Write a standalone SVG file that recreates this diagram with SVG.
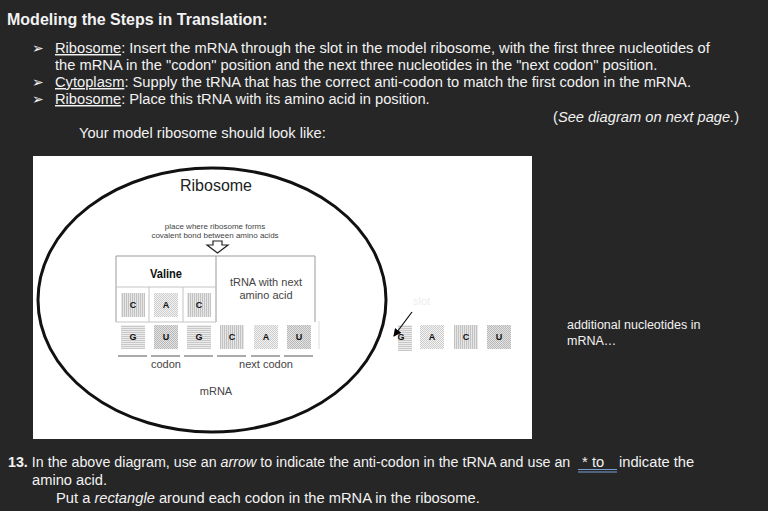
<svg xmlns="http://www.w3.org/2000/svg" width="768" height="511" viewBox="0 0 768 511">
<style>
.t{font-family:"Liberation Sans",Arial,sans-serif;fill:#f2f2f2;font-size:14.7px}
.b{font-family:"DejaVu Sans",sans-serif;fill:#f2f2f2;font-size:14px}
.d{font-family:"Liberation Sans",Arial,sans-serif;fill:#444;font-size:11px}
.nt{font-family:"Liberation Sans",Arial,sans-serif;font-weight:bold;font-size:9px;fill:#111;text-anchor:middle}
.ln{stroke:#999;stroke-width:1;fill:none}
.bar{stroke:#aaa;stroke-width:2}
</style>
<defs>
<pattern id="pv" width="2" height="2" patternUnits="userSpaceOnUse"><rect width="2" height="2" fill="#e6e6e6"/><rect width="1" height="2" fill="#c2c2c2"/></pattern>
<pattern id="ph" width="2" height="2" patternUnits="userSpaceOnUse"><rect width="2" height="2" fill="#ececec"/><rect width="2" height="1" fill="#c8c8c8"/></pattern>
<pattern id="pa" width="2" height="2" patternUnits="userSpaceOnUse"><rect width="2" height="2" fill="#f4f4f4"/><rect width="1" height="1" fill="#cccccc"/><rect x="1" y="1" width="1" height="1" fill="#cccccc"/></pattern>
<pattern id="pu" width="2" height="2" patternUnits="userSpaceOnUse"><rect width="2" height="2" fill="#e4e4e4"/><rect width="1" height="1" fill="#b8b8b8"/><rect x="1" y="1" width="1" height="1" fill="#b8b8b8"/></pattern>
<marker id="ah" markerWidth="8" markerHeight="8" refX="7" refY="4" orient="auto" markerUnits="userSpaceOnUse"><path d="M0,0 L8,4 L0,8 Z" fill="#000"/></marker>
</defs>
<rect width="768" height="511" fill="#262626"/>

<g id="header">
<text class="t" x="7" y="25" style="font-weight:bold;font-size:16px">Modeling the Steps in Translation:</text>
<text class="b" x="32" y="53">➢</text>
<text class="t" x="55" y="53"><tspan text-decoration="underline">Ribosome</tspan>: Insert the mRNA through the slot in the model ribosome, with the first three nucleotides of</text>
<text class="t" x="55" y="70">the mRNA in the "codon" position and the next three nucleotides in the "next codon" position.</text>
<text class="b" x="32" y="87">➢</text>
<text class="t" x="55" y="87"><tspan text-decoration="underline">Cytoplasm</tspan>: Supply the tRNA that has the correct anti-codon to match the first codon in the mRNA.</text>
<text class="b" x="32" y="104">➢</text>
<text class="t" x="55" y="104"><tspan text-decoration="underline">Ribosome</tspan>: Place this tRNA with its amino acid in position.</text>
<text class="t" x="553" y="122">(<tspan font-style="italic">See diagram on next page.</tspan>)</text>
<text class="t" x="79" y="138">Your model ribosome should look like:</text>
</g>

<g id="panel">
<rect x="33" y="156" width="499" height="283" fill="#fff"/>
</g>

<g id="ribosome">
<ellipse cx="212" cy="300" rx="174" ry="132" fill="none" stroke="#111" stroke-width="3"/>
<text x="216" y="191" text-anchor="middle" style="font-family:'Liberation Sans',Arial,sans-serif;font-size:16px;fill:#222">Ribosome</text>
<text class="d" x="215" y="229" text-anchor="middle" style="font-size:8px">place where ribosome forms</text>
<text class="d" x="215" y="238" text-anchor="middle" style="font-size:8px">covalent bond between amino acids</text>
<path d="M213,241 H222 V245 H228 L217.5,253 L207,245 H213 Z" fill="#fff" stroke="#222" stroke-width="1.2"/>
<text class="d" x="216" y="395" text-anchor="middle">mRNA</text>
</g>

<g id="trna-valine">
<path class="ln" d="M116,322 V256 H216 V322"/>
<path d="M116,287 H216 M149,287 V322 M183,287 V322 M116,322 H216" stroke="#c4c4c4" fill="none"/>
<text x="166" y="278" text-anchor="middle" style="font-family:'Liberation Sans',Arial,sans-serif;font-weight:bold;font-size:12px;fill:#111" textLength="32" lengthAdjust="spacingAndGlyphs">Valine</text>
<rect x="121" y="293" width="24" height="24" fill="url(#pv)"/><text class="nt" x="133" y="308">C</text>
<rect x="154" y="293" width="24" height="24" fill="url(#pa)"/><text class="nt" x="166" y="308">A</text>
<rect x="187" y="293" width="24" height="24" fill="url(#pv)"/><text class="nt" x="199" y="308">C</text>
</g>

<g id="trna-next">
<path class="ln" d="M216,256 H315 V322"/>
<text class="d" x="266" y="286" text-anchor="middle">tRNA with next</text>
<text class="d" x="266" y="299" text-anchor="middle">amino acid</text>
</g>

<g id="mrna-codon">
<rect x="121" y="325" width="24" height="24" fill="url(#ph)"/><text class="nt" x="133" y="340">G</text>
<rect x="154" y="325" width="24" height="24" fill="url(#pu)"/><text class="nt" x="166" y="340">U</text>
<rect x="187" y="325" width="24" height="24" fill="url(#ph)"/><text class="nt" x="199" y="340">G</text>
<path class="bar" d="M118,356 H147 M151,356 H180 M184,356 H213"/>
<text class="d" x="166" y="368" text-anchor="middle">codon</text>
</g>

<g id="mrna-next-codon">
<rect x="220" y="325" width="24" height="24" fill="url(#pv)"/><text class="nt" x="232" y="340">C</text>
<rect x="254" y="325" width="24" height="24" fill="url(#pa)"/><text class="nt" x="266" y="340">A</text>
<rect x="287" y="325" width="24" height="24" fill="url(#pu)"/><text class="nt" x="299" y="340">U</text>
<path class="bar" d="M217,356 H246 M251,356 H280 M284,356 H313"/>
<path d="M319,321 V349" stroke="#ddd" stroke-width="1"/>
<text class="d" x="266" y="368" text-anchor="middle">next codon</text>
</g>

<g id="mrna-outside">
<rect x="398" y="325" width="14" height="26" fill="url(#ph)"/><text class="nt" x="401" y="340">G</text>
<rect x="420" y="325" width="24" height="24" fill="url(#pa)"/><text class="nt" x="432" y="340">A</text>
<rect x="454" y="325" width="24" height="24" fill="url(#pv)"/><text class="nt" x="466" y="340">C</text>
<rect x="487" y="325" width="24" height="24" fill="url(#pu)"/><text class="nt" x="499" y="340">U</text>
</g>

<g id="slot">
<text x="413" y="305" style="font-family:'Liberation Sans',Arial,sans-serif;font-size:11px;fill:#eeeeee">slot</text>
</g>

<g id="connectors">
<line x1="412" y1="312" x2="394" y2="336" stroke="#111" stroke-width="1.2" marker-end="url(#ah)"/>
</g>

<g id="note">
<text class="t" x="567" y="329" style="font-size:12.5px">additional nucleotides in</text>
<text class="t" x="567" y="345" style="font-size:12.5px">mRNA…</text>
</g>

<g id="question">
<text class="t" x="8" y="467" style="font-size:14.27px"><tspan font-weight="bold">13.</tspan> In the above diagram, use an <tspan font-style="italic">arrow</tspan> to indicate the anti-codon in the tRNA and use an</text>
<text class="t" x="582" y="467">*</text>
<text class="t" x="592" y="467">to</text>
<text class="t" x="619" y="467">indicate the</text>
<path d="M578,469.5 H617 M578,472 H617" stroke="#7a9fd6" stroke-width="1"/>
<text class="t" x="32" y="485">amino acid.</text>
<text class="t" x="56" y="503">Put a <tspan font-style="italic">rectangle</tspan> around each codon in the mRNA in the ribosome.</text>
</g>
</svg>
